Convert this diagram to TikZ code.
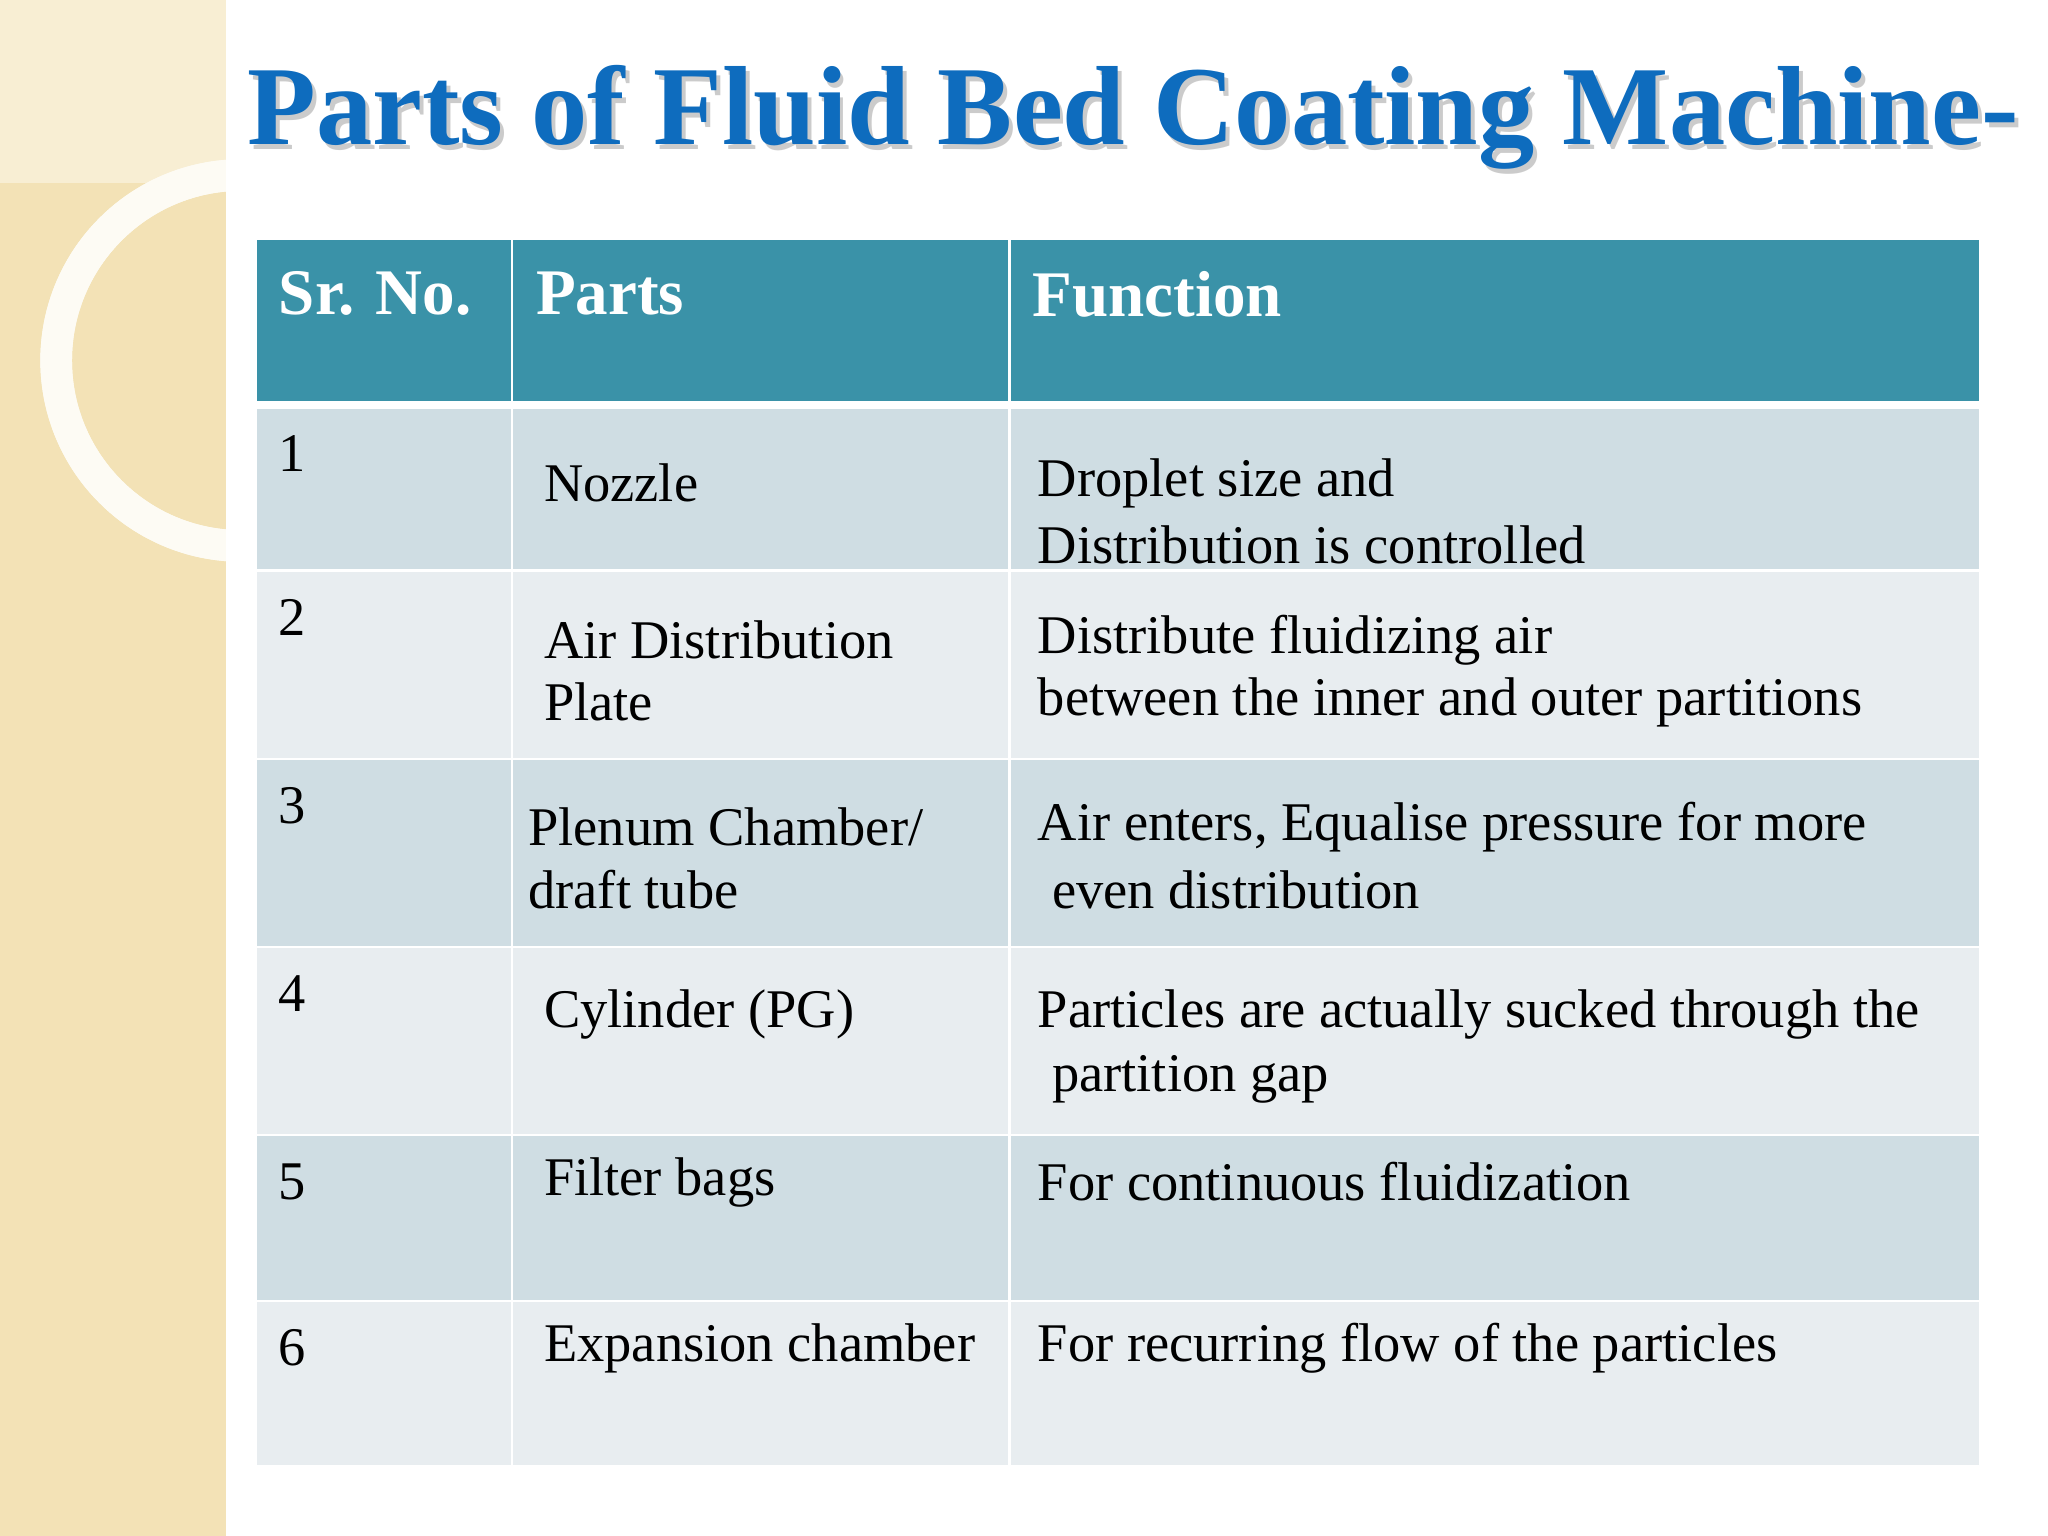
\documentclass[tikz,border=0pt]{standalone}
\usepackage{fontspec}
\setmainfont{Liberation Serif}
\begin{document}
\begin{tikzpicture}[x=0.013061cm,y=-0.013061cm,
  txt/.style={anchor=west,inner sep=0pt,font=\fontsize{15.5}{18}\selectfont},
  hdr/.style={anchor=west,inner sep=0pt,font=\fontsize{18.5}{22}\selectfont\bfseries,text=white}]
\definecolor{hd}{HTML}{3A92A8}
\definecolor{dk}{HTML}{CFDDE3}
\definecolor{lt}{HTML}{E8EDF0}
\definecolor{beige}{HTML}{F3E2B6}
\definecolor{ttl}{HTML}{0E6CBE}
\useasboundingbox (0,0) rectangle (1568,1176);
\fill[white] (0,0) rectangle (1568,1176);
\fill[beige] (0,0) rectangle (173,1176);
\fill[beige!60!white] (0,0) rectangle (173,140);
\draw[line width=2pt,white,opacity=0.7] (175,-5) arc (90:270:145);
\draw[line width=9pt,white!85!beige] (185,276) circle (142);
\begin{scope}
\clip (0,0) rectangle (173,1176);
\draw[line width=9pt,white!85!beige] (185,276) circle (142);
\end{scope}
\fill[white] (173,0) rectangle (1568,1176);
\node[anchor=west,inner sep=0pt,font=\fontsize{32}{38}\selectfont\bfseries,text=black!40,opacity=0.5] at (192,94) {Parts of Fluid Bed Coating Machine-};
\node (title)[anchor=west,inner sep=0pt,font=\fontsize{32}{38}\selectfont\bfseries,text=ttl] at (189,90) {Parts of Fluid Bed Coating Machine-};
% header
\fill[hd] (197,184) rectangle (391,307);
\fill[hd] (393,184) rectangle (772,307);
\fill[hd] (774,184) rectangle (1515,307);
\foreach \a/\b/\c in {313/436/dk,438/580/lt,582/724/dk,726/868/lt,870/995/dk,997/1122/lt}{
  \fill[\c] (197,\a) rectangle (391,\b);
  \fill[\c] (393,\a) rectangle (772,\b);
  \fill[\c] (774,\a) rectangle (1515,\b);
}
\node (h1)[hdr] at (213,225) {Sr. No.};
\node (h2)[hdr] at (410,225) {Parts};
\node (h3)[hdr] at (790,225) {Function};
\node (n1)[txt] at (213,347) {1};
\node (p1)[txt] at (416,370) {Nozzle};
\node (f1)[txt] at (794,370) {Droplet size and};
\node (f1b)[txt] at (794,417) {Distribution is controlled};
\node (n2)[txt] at (213,473) {2};
\node (p2)[txt] at (416,490) {Air Distribution};
\node (p2b)[txt] at (416,537) {Plate};
\node (f2)[txt] at (794,490) {Distribute fluidizing air};
\node (f2b)[txt] at (794,538) {between the inner and outer partitions};
\node (n3)[txt] at (213,617) {3};
\node (p3)[txt] at (404,633) {Plenum Chamber/};
\node (p3b)[txt] at (404,681) {draft tube};
\node (f3)[txt] at (794,633) {Air enters, Equalise pressure for more};
\node (f3b)[txt] at (805,681) {even distribution};
\node (n4)[txt] at (213,761) {4};
\node (p4)[txt] at (416,777) {Cylinder (PG)};
\node (f4)[txt] at (794,777) {Particles are actually sucked through the};
\node (f4b)[txt] at (805,826) {partition gap};
\node (n5)[txt] at (213,905) {5};
\node (p5)[txt] at (416,905) {Filter bags};
\node (f5)[txt] at (794,905) {For continuous fluidization};
\node (n6)[txt] at (213,1032) {6};
\node (p6)[txt] at (416,1032) {Expansion chamber};
\node (f6)[txt] at (794,1032) {For recurring flow of the particles};
\end{tikzpicture}
\end{document}
